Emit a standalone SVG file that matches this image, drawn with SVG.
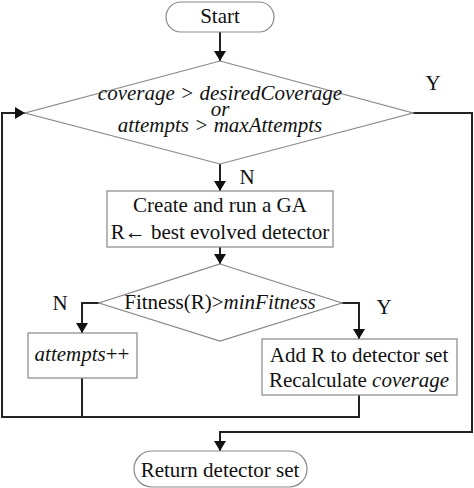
<svg xmlns="http://www.w3.org/2000/svg" width="474" height="488" viewBox="0 0 474 488">
<style>
text{font-family:"Liberation Serif","Times New Roman",serif;font-size:21px;fill:#111;text-anchor:middle}
.i{font-style:italic}
.shape{fill:#fff;stroke:#888;stroke-width:1.2}
.conn{fill:none;stroke:#222;stroke-width:2}
</style>
<defs>
<marker id="ah" markerWidth="10" markerHeight="12" refX="10" refY="6" orient="auto" markerUnits="userSpaceOnUse">
<path d="M0,0 L10,6 L0,12 Z" fill="#111"/>
</marker>
</defs>
<rect width="474" height="488" fill="#fff"/>
<g id="connectors">
<path class="conn" d="M220,32 V61" marker-end="url(#ah)"/>
<path class="conn" d="M220,164 V191" marker-end="url(#ah)"/>
<path class="conn" d="M220,247 V264" marker-end="url(#ah)"/>
<path class="conn" d="M99,303 H82 V333" marker-end="url(#ah)"/>
<path class="conn" d="M342,303 H359 V339" marker-end="url(#ah)"/>
<path class="conn" d="M82,378 V417"/>
<path class="conn" d="M359,395 V417 H2 V113 H25" marker-end="url(#ah)"/>
<path class="conn" d="M413,113 H472 V432 H220 V451" marker-end="url(#ah)"/>
<text x="433" y="90">Y</text>
<text x="247" y="184">N</text>
<text x="60" y="310">N</text>
<text x="384" y="314">Y</text>
</g>
<g id="start">
<rect class="shape" x="166" y="2" width="108" height="30" rx="15"/>
<text x="220" y="23">Start</text>
</g>
<g id="decision1">
<polygon class="shape" points="220,61 413,113 220,164 25,113"/>
<text class="i" x="220" y="100">coverage &gt; desiredCoverage</text>
<text class="i" x="220" y="116">or</text>
<text class="i" x="220" y="132">attempts &gt; maxAttempts</text>
</g>
<g id="runGA">
<rect class="shape" x="107" y="191" width="226" height="56"/>
<text x="220" y="212">Create and run a GA</text>
<text x="220" y="239">R← best evolved detector</text>
</g>
<g id="decision2">
<polygon class="shape" points="220,264 342,303 220,341 99,303"/>
<text x="220" y="309">Fitness(R)&gt;<tspan class="i">minFitness</tspan></text>
</g>
<g id="attempts">
<rect class="shape" x="28" y="333" width="109" height="45"/>
<text x="82" y="361"><tspan class="i">attempts</tspan>++</text>
</g>
<g id="addR">
<rect class="shape" x="262" y="339" width="195" height="56"/>
<text x="359" y="362">Add R to detector set</text>
<text x="359" y="387">Recalculate <tspan class="i">coverage</tspan></text>
</g>
<g id="return">
<rect class="shape" x="134" y="451" width="173" height="36" rx="18"/>
<text x="220" y="477">Return detector set</text>
</g>
</svg>
